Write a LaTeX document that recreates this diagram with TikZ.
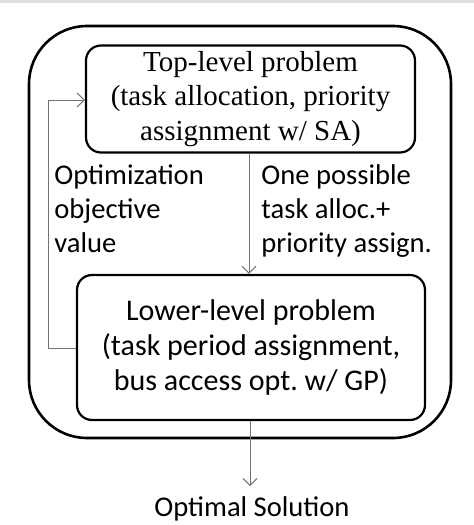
\documentclass[tikz,border=0pt]{standalone}
\usepackage{fontspec}
\setmainfont{Liberation Serif}
\newfontfamily\calib{Carlito}
\usetikzlibrary{arrows.meta}
\frenchspacing
\begin{document}
\begin{tikzpicture}[x=0.5pt,y=-0.5pt,
    flow/.style={draw=black!55, line width=0.5pt, -{Straight Barb[length=3.5pt,width=7pt]}},
    probbox/.style={draw, line width=1.1pt, rounded corners=7.5pt, align=center, inner sep=0pt}]
    \useasboundingbox (0,0) rectangle (474,525);
    \fill[black!13] (0,0) rectangle (474,3);

    \draw[line width=1.3pt, rounded corners=29pt] (29,26) rectangle (451,438);

    \node[probbox, minimum width=164.5pt, minimum height=53.5pt, font=\fontsize{14.5}{17.3}\selectfont] (Top) at (250.5,99) {Top-level problem\\(task allocation, priority\\assignment w/ SA)};
    \node[probbox, minimum width=174pt, minimum height=72.5pt, font=\calib\fontsize{15}{17.5}\selectfont] (Low) at (251,347.5) {Lower-level problem\\(task period assignment,\\bus access opt. w/ GP)};

    \node[anchor=north west, align=left, inner sep=0pt, font=\calib\fontsize{14.3}{17}\selectfont] (Obj) at (54,164) {Optimization\\objective\\value};
    \node[anchor=north west, align=left, inner sep=0pt, font=\calib\fontsize{14.3}{17}\selectfont] (Cand) at (261,164) {One possible\\task alloc.+\\priority assign.};

    \node[inner sep=0pt, font=\calib\fontsize{14.3}{17}\selectfont] (Opt) at (252,509) {Optimal Solution};
    \coordinate (OptIn) at (250,486);

    \draw[flow] (Top.south -| 249,0) -- (Low.north -| 249,0);
    \draw[flow] (Low.west |- 0,348) -| (48,100) -- (Top.west |- 0,100);
    \draw[flow] (Low.south -| 250,0) -- (OptIn);
\end{tikzpicture}
\end{document}
